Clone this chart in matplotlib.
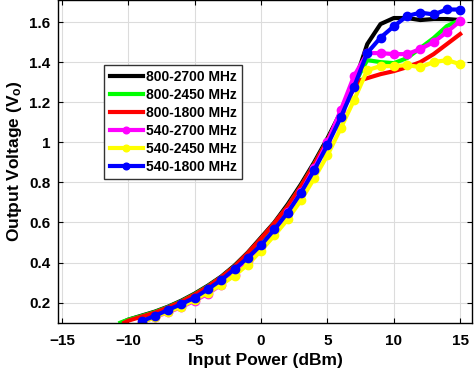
import numpy as np
import matplotlib
matplotlib.use("Agg")
import matplotlib.pyplot as plt

plt.rcParams["font.family"] = ["Liberation Sans", "DejaVu Sans"]
plt.rcParams["mathtext.fontset"] = "custom"
plt.rcParams["mathtext.bf"] = "Liberation Sans:bold"
plt.rcParams["mathtext.rm"] = "Liberation Sans"

# Lines without markers (800 MHz series)
x_black = [-10.5, -10, -9, -8, -7, -6, -5, -4, -3, -2, -1, 0, 1, 2, 3, 4, 5, 6, 7, 7.5, 8, 9, 10, 11, 12, 13, 14, 15]
y_black = [0.10, 0.115, 0.135, 0.155, 0.18, 0.21, 0.245, 0.285, 0.33, 0.385, 0.45, 0.525, 0.60, 0.69, 0.79, 0.90, 1.02, 1.15, 1.30, 1.39, 1.49, 1.59, 1.62, 1.62, 1.61, 1.615, 1.615, 1.61]

x_green = [-10.6, -10, -9, -8, -7, -6, -5, -4, -3, -2, -1, 0, 1, 2, 3, 4, 5, 6, 7, 7.5, 8, 9, 10, 11, 12, 13, 14, 15]
y_green = [0.10, 0.115, 0.133, 0.153, 0.178, 0.207, 0.242, 0.282, 0.327, 0.38, 0.445, 0.518, 0.595, 0.68, 0.78, 0.89, 1.01, 1.14, 1.28, 1.35, 1.41, 1.40, 1.395, 1.42, 1.47, 1.52, 1.58, 1.61]

x_red = [-10.3, -10, -9, -8, -7, -6, -5, -4, -3, -2, -1, 0, 1, 2, 3, 4, 5, 6, 7, 7.5, 8, 9, 10, 11, 12, 13, 14, 15]
y_red = [0.10, 0.11, 0.13, 0.15, 0.176, 0.205, 0.24, 0.28, 0.327, 0.38, 0.447, 0.52, 0.597, 0.68, 0.78, 0.89, 1.01, 1.14, 1.27, 1.31, 1.32, 1.34, 1.355, 1.375, 1.40, 1.44, 1.49, 1.54]

# Lines with markers (540 MHz series), one point per dBm
x_mark = [-9, -8, -7, -6, -5, -4, -3, -2, -1, 0, 1, 2, 3, 4, 5, 6, 7, 8, 9, 10, 11, 12, 13, 14, 15]
y_magenta = [0.10, 0.128, 0.152, 0.178, 0.21, 0.245, 0.29, 0.34, 0.41, 0.48, 0.56, 0.65, 0.75, 0.87, 1.0, 1.16, 1.33, 1.445, 1.445, 1.44, 1.44, 1.465, 1.50, 1.55, 1.605]
y_yellow = [0.10, 0.128, 0.155, 0.18, 0.215, 0.25, 0.29, 0.335, 0.39, 0.46, 0.535, 0.615, 0.71, 0.82, 0.935, 1.07, 1.21, 1.36, 1.38, 1.38, 1.385, 1.375, 1.40, 1.41, 1.39]
y_blue = [0.107, 0.134, 0.164, 0.193, 0.225, 0.267, 0.313, 0.367, 0.424, 0.487, 0.565, 0.649, 0.748, 0.861, 0.986, 1.124, 1.276, 1.446, 1.522, 1.579, 1.63, 1.647, 1.638, 1.663, 1.662]

labels = ["800-2700 MHz", "800-2450 MHz", "800-1800 MHz", "540-2700 MHz", "540-2450 MHz", "540-1800 MHz"]

fig = plt.figure(figsize=(4.74, 3.73), dpi=100)
ax = fig.add_axes([0.1224, 0.135, 0.8736, 0.865])

lw = 3.0
ms = 6
ax.plot(x_black, y_black, color="black", lw=lw, label=labels[0])
ax.plot(x_green, y_green, color="#00ff00", lw=lw, label=labels[1])
ax.plot(x_red, y_red, color="red", lw=lw, label=labels[2])
ax.plot(x_mark, y_magenta, color="magenta", lw=lw, marker="o", ms=ms, label=labels[3])
ax.plot(x_mark, y_yellow, color="yellow", lw=lw, marker="o", ms=ms, label=labels[4])
ax.plot(x_mark, y_blue, color="blue", lw=lw, marker="o", ms=ms, label=labels[5])

ax.set_xlim(-15.3, 15.9)
ax.set_ylim(0.1, 1.71)
ax.set_xticks([-15, -10, -5, 0, 5, 10, 15])
ax.set_yticks([0.2, 0.4, 0.6, 0.8, 1.0, 1.2, 1.4, 1.6])
ax.set_yticklabels(["0.2", "0.4", "0.6", "0.8", "1", "1.2", "1.4", "1.6"])
ax.grid(True, color="#dcdcdc", lw=0.8)
ax.set_axisbelow(True)
ax.tick_params(direction="in", top=True, right=True, labelsize=11, width=0.8)
ax.tick_params(axis="x", pad=8)
ax.tick_params(axis="y", pad=5.5)
for lab in ax.get_xticklabels() + ax.get_yticklabels():
    lab.set_fontweight("bold")
for sp in ax.spines.values():
    sp.set_linewidth(1.0)

ax.set_xlabel("Input Power (dBm)", fontsize=12.5, fontweight="bold", labelpad=4)
ax.set_ylabel(r"Output Voltage ($\mathbf{V_o}$)", fontsize=12.5, fontweight="bold", labelpad=4)

leg = ax.legend(loc="upper left", bbox_to_anchor=(0.111, 0.80), fancybox=False,
                edgecolor="#333333", framealpha=1, handlelength=2.4, handletextpad=0.2,
                borderpad=0.4, labelspacing=0.28, borderaxespad=0,
                markerscale=0.8, prop={"weight": "bold", "size": 10})
leg.get_frame().set_linewidth(1.0)

fig.savefig("out.png", dpi=100)
